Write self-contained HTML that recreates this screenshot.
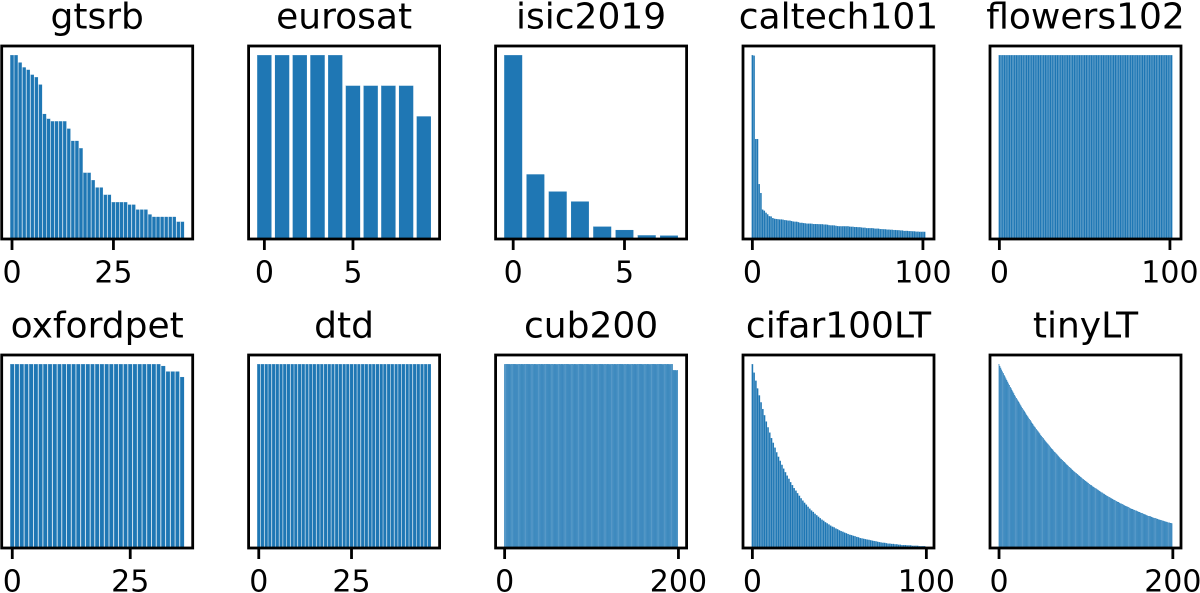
<!DOCTYPE html>
<html lang="en">
<head>
<meta charset="utf-8">
<title>Class distributions of ten datasets</title>
<style>
  html, body { margin: 0; padding: 0; background: #fff; width: 1200px; height: 593px; overflow: hidden; }
  svg { display: block; filter: blur(0.25px); }
  text { font-family: "DejaVu Sans", "Liberation Sans", sans-serif; fill: #000; }
</style>
</head>
<body>
<svg id="chart" xmlns="http://www.w3.org/2000/svg" width="1200" height="593" viewBox="0 0 1200 593"></svg>
<script>
const gtsrb = [2250,2250,2160,2100,2070,2010,1980,1890,1530,1470,1440,1440,1440,1440,1350,1200,1200,1110,810,810,720,630,630,540,540,450,450,450,450,420,420,360,360,360,300,270,270,270,270,270,270,210,210];
const eurosat = [3000,3000,3000,3000,3000,2500,2500,2500,2500,2000];
const isic2019 = [12875,4522,3323,2624,867,628,253,239];
const caltech101 = [800,798,435,435,239,200,128,123,114,107,
  99,98,91,88,87,86,85,85,84,82,
  81,80,80,78,76,75,75,73,70,70,
  69,68,67,67,67,66,65,65,65,64,
  64,64,63,63,62,60,59,59,59,57,
  56,55,55,55,55,55,55,54,53,53,
  52,52,51,51,50,49,49,47,47,47,
  47,46,45,45,45,43,43,42,42,41,
  41,40,40,39,39,38,38,37,37,35,
  35,35,34,34,33,33,32,32,31,31,
  31,31];
const flowers102 = [10,10,10,10,10,10,10,10,10,10,10,10,10,10,10,10,10,10,10,10,
  10,10,10,10,10,10,10,10,10,10,10,10,10,10,10,10,10,10,10,10,
  10,10,10,10,10,10,10,10,10,10,10,10,10,10,10,10,10,10,10,10,
  10,10,10,10,10,10,10,10,10,10,10,10,10,10,10,10,10,10,10,10,
  10,10,10,10,10,10,10,10,10,10,10,10,10,10,10,10,10,10,10,10,
  10,10];
const oxfordpet = [100,100,100,100,100,100,100,100,100,100,100,100,100,100,100,100,
  100,100,100,100,100,100,100,100,100,100,100,100,100,100,100,100,99,96,96,96,93];
const dtd = [80,80,80,80,80,80,80,80,80,80,80,80,80,80,80,80,80,80,80,80,
  80,80,80,80,80,80,80,80,80,80,80,80,80,80,80,80,80,80,80,80,
  80,80,80,80,80,80,80];
const cub200 = [30,30,30,30,30,30,30,30,30,30,30,30,30,30,30,30,30,30,30,30,
  30,30,30,30,30,30,30,30,30,30,30,30,30,30,30,30,30,30,30,30,
  30,30,30,30,30,30,30,30,30,30,30,30,30,30,30,30,30,30,30,30,
  30,30,30,30,30,30,30,30,30,30,30,30,30,30,30,30,30,30,30,30,
  30,30,30,30,30,30,30,30,30,30,30,30,30,30,30,30,30,30,30,30,
  30,30,30,30,30,30,30,30,30,30,30,30,30,30,30,30,30,30,30,30,
  30,30,30,30,30,30,30,30,30,30,30,30,30,30,30,30,30,30,30,30,
  30,30,30,30,30,30,30,30,30,30,30,30,30,30,30,30,30,30,30,30,
  30,30,30,30,30,30,30,30,30,30,30,30,30,30,30,30,30,30,30,30,
  30,30,30,30,30,30,30,30,30,30,30,30,30,30,29,29,29,29,29,29];
const cifar100LT = [500,477,455,434,415,396,378,361,344,328,
  314,299,286,273,260,248,237,226,216,206,
  197,188,179,171,163,156,149,142,135,129,
  123,118,112,107,102,98,93,89,85,81,
  77,74,70,67,64,61,58,56,53,51,
  48,46,44,42,40,38,36,35,33,32,
  30,29,27,26,25,24,23,22,21,20,
  19,18,17,16,15,14,14,13,12,12,
  11,11,10,10,9,9,8,8,8,7,
  7,7,6,6,6,6,5,5,5,5];
const tinyLT = [500,495,490,485,480,475,470,466,461,456,
  452,447,443,438,434,429,425,421,416,412,
  408,404,400,396,392,388,384,380,376,373,
  369,365,361,358,354,351,347,344,340,337,
  333,330,327,323,320,317,314,311,307,304,
  301,298,295,292,289,286,284,281,278,275,
  272,269,267,264,261,259,256,254,251,248,
  246,243,241,239,236,234,232,229,227,225,
  222,220,218,216,213,211,209,207,205,203,
  201,199,197,195,193,191,189,187,185,183,
  181,180,178,176,174,172,171,169,167,166,
  164,162,161,159,158,156,154,153,151,150,
  148,147,145,144,142,141,139,138,137,135,
  134,133,131,130,129,127,126,125,124,122,
  121,120,119,118,116,115,114,113,112,111,
  109,108,107,106,105,104,103,102,101,100,
  99,98,97,96,95,94,93,92,91,90,
  89,88,87,86,86,85,84,83,82,81,
  81,80,79,78,77,77,76,75,74,74,
  73,72,71,71,70,69,69,68,67,67];

const panelTitles = ["gtsrb","eurosat","isic2019","caltech101","flowers102","oxfordpet","dtd","cub200","cifar100LT","tinyLT"];
const panelSeries = [gtsrb,eurosat,isic2019,caltech101,flowers102,oxfordpet,dtd,cub200,cifar100LT,tinyLT];
const panelTicks = [[0,25],[0,5],[0,5],[0,100],[0,100],[0,25],[0,25],[0,200],[0,100],[0,200]];

const NS = "http://www.w3.org/2000/svg";
const svg = document.getElementById("chart");
const AXES_LEFT = [1.7, 248.6, 495.6, 743, 990];
const AXES_TOP = [46, 355];
const AXES_W = 191;
const AXES_H = 193;
const BAR_COLOR = "#1f77b4";
const BAR_WIDTH = 0.8;
const LINE_W = 2.8;

function make(parent, tag, attrs) {
  const el = document.createElementNS(NS, tag);
  for (const k in attrs) el.setAttribute(k, attrs[k]);
  parent.appendChild(el);
  return el;
}

function slug(s) {
  return s.toLowerCase();
}

panelSeries.forEach(function (values, p) {
  const col = p % 5;
  const row = Math.floor(p / 5);
  const left = AXES_LEFT[col];
  const top = AXES_TOP[row];
  const bottom = top + AXES_H;
  const name = slug(panelTitles[p]);

  const n = values.length;
  const dataMin = -BAR_WIDTH / 2;
  const dataMax = n - 1 + BAR_WIDTH / 2;
  const pad = (dataMax - dataMin) * 0.05;
  const xMin = dataMin - pad;
  const xMax = dataMax + pad;
  const yMax = Math.max.apply(null, values) * 1.05;
  const xScale = function (v) { return left + (v - xMin) / (xMax - xMin) * AXES_W; };
  const yScale = function (v) { return bottom - v / yMax * AXES_H; };
  const unit = xScale(1) - xScale(0);
  const barStroke = Math.min(0.15, unit * 0.08);

  const g = make(svg, "g", {});
  
  

  const title = make(g, "text", {
    x: left + AXES_W / 2, y: top - 17.7, "text-anchor": "middle", "font-size": 36
  });
  title.textContent = panelTitles[p];
  
  

  values.forEach(function (v, i) {
    const bar = make(g, "rect", {
      x: xScale(i - BAR_WIDTH / 2),
      y: yScale(v),
      width: xScale(i + BAR_WIDTH / 2) - xScale(i - BAR_WIDTH / 2),
      height: bottom - yScale(v),
      fill: BAR_COLOR,
      stroke: BAR_COLOR,
      "stroke-width": barStroke
    });
    
    
  });

  panelTicks[p].forEach(function (t) {
    const tick = make(g, "line", {
      x1: xScale(t), x2: xScale(t), y1: bottom, y2: bottom + 11,
      stroke: "#000", "stroke-width": LINE_W
    });
    
    
    const label = make(g, "text", {
      x: xScale(t), y: bottom + 43.6, "text-anchor": "middle", "font-size": 30
    });
    label.textContent = String(t);
    
    
  });

  const frame = make(g, "rect", {
    x: left, y: top, width: AXES_W, height: AXES_H,
    fill: "none", stroke: "#000", "stroke-width": LINE_W
  });
  
  
});
</script>
</body>
</html>
